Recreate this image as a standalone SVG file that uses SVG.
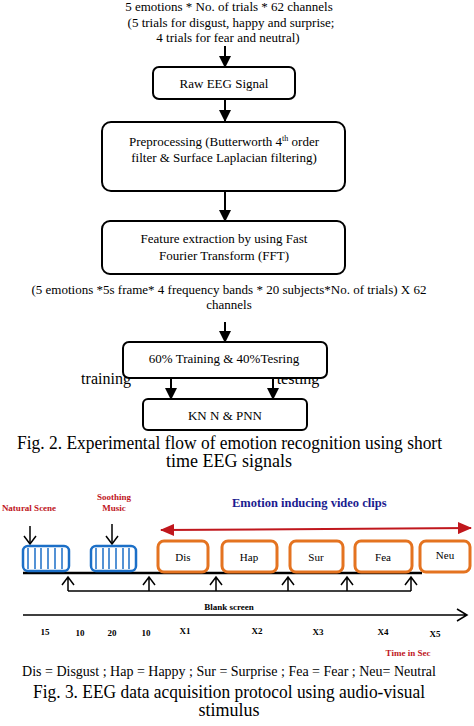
<svg xmlns="http://www.w3.org/2000/svg" width="474" height="726" viewBox="0 0 474 726">
<defs>
<style>
.t{font-family:"Liberation Serif","Times New Roman",serif;fill:#000;text-anchor:middle}
.box{fill:#fff;stroke:#000;stroke-width:2}
.ln{stroke:#000;stroke-width:2;fill:none}
.blue{fill:#fff;stroke:#1c6fc7;stroke-width:2.5}
.bl{stroke:#1c6fc7;stroke-width:1.5}
.org{fill:#fff;stroke:#e47320;stroke-width:3}
.red{font-family:"Liberation Serif","Times New Roman",serif;fill:#c0171d;font-weight:bold;text-anchor:middle}
.sm{font-family:"Liberation Serif","Times New Roman",serif;fill:#000;font-weight:bold;font-size:9px;text-anchor:middle}
.chev{stroke:#000;stroke-width:1.5;fill:none}
</style>
<marker id="ah" markerUnits="userSpaceOnUse" markerWidth="12" markerHeight="12" viewBox="0 0 12 12" refX="11" refY="6" orient="auto">
<path d="M0,0 L12,6 L0,12 Z" fill="#000"/>
</marker>
<marker id="rh" markerUnits="userSpaceOnUse" markerWidth="14" markerHeight="12" viewBox="0 0 14 12" refX="13" refY="6" orient="auto-start-reverse">
<path d="M0,0 L14,6 L0,12 Z" fill="#c0171d"/>
</marker>
</defs>

<!-- Figure 2 -->
<g id="input-text">
<text class="t" font-size="13" x="229" y="11">5 emotions * No. of trials * 62 channels</text>
<text class="t" font-size="13" x="231" y="27">(5 trials for disgust, happy and surprise;</text>
<text class="t" font-size="13" x="228" y="42">4 trials for fear and neutral)</text>
</g>

<g id="training-labels">
<text class="t" font-size="16" x="106" y="384">training</text>
<text class="t" font-size="16" x="298" y="384">testing</text>
</g>

<g id="connectors">
<line class="ln" x1="225" y1="46" x2="225" y2="67" marker-end="url(#ah)"/>
<line class="ln" x1="225" y1="99" x2="225" y2="121" marker-end="url(#ah)"/>
<line class="ln" x1="225" y1="191" x2="225" y2="221" marker-end="url(#ah)"/>
<line class="ln" x1="225" y1="322" x2="225" y2="342" marker-end="url(#ah)"/>
<line class="ln" x1="171" y1="378" x2="171" y2="399" marker-end="url(#ah)"/>
<line class="ln" x1="273" y1="378" x2="273" y2="399" marker-end="url(#ah)"/>
</g>

<g id="raw-eeg">
<rect class="box" x="153" y="67" width="142" height="32" rx="6"/>
<text class="t" font-size="13" x="224" y="88">Raw EEG Signal</text>
</g>

<g id="preprocessing">
<rect class="box" x="102" y="122" width="243" height="69" rx="9"/>
<text class="t" font-size="13" x="224" y="146">Preprocessing (Butterworth 4<tspan font-size="8" dy="-5">th</tspan><tspan dy="5"> order</tspan></text>
<text class="t" font-size="13" x="224" y="162">filter &amp; Surface Laplacian filtering)</text>
</g>

<g id="fft">
<rect class="box" x="102" y="221" width="243" height="53" rx="8"/>
<text class="t" font-size="13" x="224" y="243">Feature extraction by using Fast</text>
<text class="t" font-size="13" x="224" y="260">Fourier Transform (FFT)</text>
</g>

<g id="feature-text">
<text class="t" font-size="13" x="229" y="294">(5 emotions *5s frame* 4 frequency bands * 20 subjects*No. of trials) X 62</text>
<text class="t" font-size="13" x="229" y="309">channels</text>
</g>

<g id="split">
<rect class="box" x="123" y="342" width="204" height="36" rx="6"/>
<text class="t" font-size="13" x="224" y="363">60% Training &amp; 40%Tesring</text>
</g>

<g id="classifier">
<rect class="box" x="143" y="399" width="164" height="31" rx="5"/>
<text class="t" font-size="13" x="225" y="420">KN N &amp; PNN</text>
</g>

<g id="caption2">
<text class="t" font-size="18" x="229.5" y="449" textLength="425" lengthAdjust="spacingAndGlyphs">Fig. 2. Experimental flow of emotion recognition using short</text>
<text class="t" font-size="18" x="229" y="466.5">time EEG signals</text>
</g>

<!-- Figure 3 -->
<g id="fig3-labels">
<text font-family="Liberation Serif, Times New Roman, serif" font-weight="bold" font-size="12.5" fill="#1b1b8f" x="232" y="507">Emotion inducing video clips</text>
<text class="red" font-size="9" x="29" y="511">Natural Scene</text>
<text class="red" font-size="9" x="114" y="500">Soothing</text>
<text class="red" font-size="9" x="114" y="511">Music</text>
</g>

<g id="fig3-connectors">
<line x1="161" y1="530" x2="471" y2="528" stroke="#c0171d" stroke-width="2" marker-start="url(#rh)" marker-end="url(#rh)"/>
<line x1="30" y1="526" x2="30" y2="544" class="chev"/>
<path class="chev" d="M24,536 L30,544 L36,536"/>
<line x1="112" y1="524" x2="112" y2="544" class="chev"/>
<path class="chev" d="M106,536 L112,544 L118,536"/>
<line x1="23" y1="573" x2="422" y2="573" stroke="#000" stroke-width="2.5"/>
<g class="chev">
<path d="M62,585 L68,577 L74,585 M68,577 V591"/>
<path d="M143,585 L149,577 L155,585 M149,577 V591"/>
<path d="M210,585 L216,577 L222,585 M216,577 V591"/>
<path d="M282,585 L288,577 L294,585 M288,577 V591"/>
<path d="M341,585 L347,577 L353,585 M347,577 V591"/>
<path d="M405,585 L411,577 L417,585 M411,577 V591"/>
<path d="M68,591 H411"/>
<path d="M23,615 H467 M457,609 L467,615 L457,621"/>
</g>
</g>

<g id="natural-scene">
<rect class="blue" x="23" y="546" width="46" height="25" rx="5"/>
<path class="bl" d="M28,548V569M35,548V569M41,548V569M48,548V569M55,548V569M62,548V569"/>
</g>
<g id="soothing-music">
<rect class="blue" x="91" y="546" width="45" height="25" rx="5"/>
<path class="bl" d="M96,548V569M103,548V569M109,548V569M116,548V569M123,548V569M129,548V569"/>
</g>

<g id="dis">
<rect class="org" x="158" y="541" width="50" height="31" rx="6"/>
<text class="t" font-size="11" x="183" y="561">Dis</text>
</g>
<g id="hap">
<rect class="org" x="222" y="541" width="55" height="31" rx="6"/>
<text class="t" font-size="11" x="249" y="561">Hap</text>
</g>
<g id="sur">
<rect class="org" x="290" y="541" width="53" height="31" rx="6"/>
<text class="t" font-size="11" x="316" y="561">Sur</text>
</g>
<g id="fea">
<rect class="org" x="355" y="541" width="57" height="31" rx="6"/>
<text class="t" font-size="11" x="383" y="561">Fea</text>
</g>
<g id="neu">
<rect class="org" x="420" y="541" width="50" height="31" rx="6"/>
<text class="t" font-size="11" x="445" y="559">Neu</text>
</g>

<g id="timeline-labels">
<text class="sm" x="229" y="610">Blank screen</text>
<text class="sm" x="45" y="635">15</text>
<text class="sm" x="80" y="636">10</text>
<text class="sm" x="112" y="636">20</text>
<text class="sm" x="146" y="636">10</text>
<text class="sm" x="185" y="634">X1</text>
<text class="sm" x="257" y="634">X2</text>
<text class="sm" x="318" y="635">X3</text>
<text class="sm" x="383" y="635">X4</text>
<text class="sm" x="435" y="637">X5</text>
<text class="red" font-size="9" x="408" y="656">Time in Sec</text>
</g>

<g id="legend">
<text class="t" font-size="14" x="229" y="676">Dis = Disgust ; Hap = Happy ; Sur = Surprise ; Fea = Fear ; Neu= Neutral</text>
</g>

<g id="caption3">
<text class="t" font-size="18" x="229" y="698" textLength="392" lengthAdjust="spacingAndGlyphs">Fig. 3. EEG data acquisition protocol using audio-visual</text>
<text class="t" font-size="18" x="229" y="716">stimulus</text>
</g>
</svg>
